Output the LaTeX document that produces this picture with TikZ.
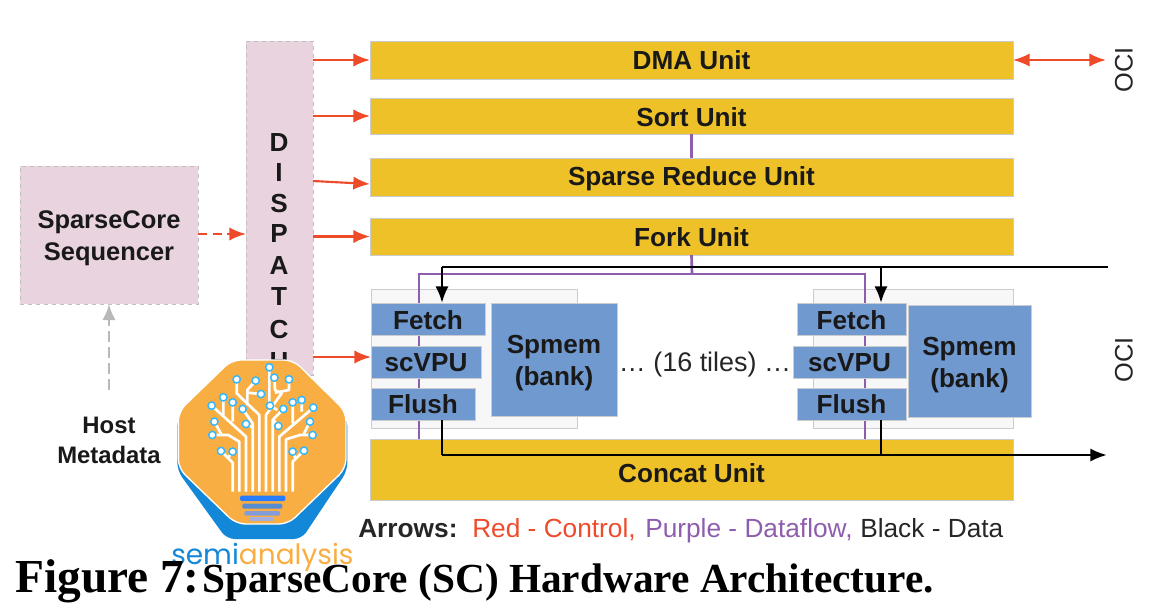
\documentclass[tikz,border=0pt]{standalone}
\usepackage{fontspec}
\setmainfont{Liberation Sans}
\newfontfamily\capfont{Liberation Serif}
\newfontfamily\logofont{Poppins}
\usetikzlibrary{arrows.meta}
\definecolor{unity}{HTML}{EFC128}
\definecolor{pinkb}{HTML}{E8D3DF}
\definecolor{blueb}{HTML}{7099D0}
\definecolor{redc}{HTML}{EE4B2B}
\definecolor{purp}{HTML}{8E5DAE}
\definecolor{edgeg}{HTML}{C9CDD2}
\definecolor{logoo}{HTML}{F8AE42}
\definecolor{logob}{HTML}{1488D8}
\tikzset{
  x=0.75pt,y=-0.75pt,
  lab/.style={font=\fontsize{19.6}{24}\selectfont\bfseries,align=center,text=black!90},
  box/.style={rectangle,inner sep=0pt,outer sep=0pt,line width=0.6pt,anchor=center},
  unitbox/.style={box,fill=unity,draw=edgeg},
  tilebg/.style={box,fill=black!3,draw=edgeg},
  blk/.style={box,fill=blueb,draw=edgeg},
  pinkbox/.style={box,fill=pinkb,draw=black!25,dashed},
  ctl/.style={draw=redc,line width=1.6pt,-{Latex[length=12.5pt,width=10pt]}},
  flow/.style={draw=purp,line width=2pt},
  dat/.style={draw=black,line width=2pt},
  datarrow/.style={dat,-{Latex[length=12.5pt,width=10pt]}},
  plain/.style={font=\fontsize{20.2}{24}\selectfont,text=black!85},
  legend/.style={anchor=base west,inner sep=0pt,font=\fontsize{19.7}{24}\selectfont},
  tree/.style={draw=white,line width=2pt,line join=round},
  leaf/.style={circle,fill=white,draw=blue!35!cyan!80!white,line width=1.1pt,inner sep=0pt,minimum size=5.5pt},
}
\newcommand{\ub}[6]{\node[#6,minimum width=#3 *0.75pt-#1 *0.75pt,minimum height=#4 *0.75pt-#2 *0.75pt] (#5) at ({(#1+#3)/2},{(#2+#4)/2})}
\newcommand{\tx}[3]{\node[lab] (#1text) at ([yshift=#2]#1.center) {#3};}
\begin{document}
\begin{tikzpicture}
\useasboundingbox (0,0) rectangle (1168,614);
% tiles background
\ub{371}{289}{577}{428}{tileL}{tilebg} {};
\ub{813}{289}{1013}{428}{tileR}{tilebg} {};
% units
\ub{370}{41}{1013}{79}{dma}{unitbox} {}; \tx{dma}{0pt}{DMA Unit}
\ub{370}{98}{1013}{134}{sort}{unitbox} {}; \tx{sort}{-0.7pt}{Sort Unit}
\ub{370}{158}{1013}{196}{sparse}{unitbox} {}; \tx{sparse}{-1.5pt}{Sparse Reduce Unit}
\ub{370}{218}{1013}{255}{fork}{unitbox} {}; \tx{fork}{-0.7pt}{Fork Unit}
\ub{370}{439}{1013}{500}{concat}{unitbox} {}; \tx{concat}{-2.5pt}{Concat Unit}
% dispatch and sequencer
\ub{246}{41}{313}{375}{dispatch}{pinkbox} {};
\foreach \c/\yy in {D/143,I/173,S/204,P/234,A/266,T/297,C/330,H/362}
  \node[lab] (let\c) at (279,\yy) {\c};
\ub{20}{166}{198}{304}{seq}{pinkbox} {};
\node[lab,font=\fontsize{19.1}{24}\selectfont\bfseries] (seqtext) at ([yshift=-2.5pt]seq.center) {SparseCore\\Sequencer};
\node[lab,font=\fontsize{17.9}{22.5}\selectfont\bfseries] (host) at (109,440) {Host\\Metadata};
% purple dataflow under blocks
\coordinate (forkdrop) at (692,274);
\coordinate (pl) at (419,274);
\coordinate (pr) at (865,274);
\draw[flow] (sort.south) -- (sparse.north);
\draw[flow] (fork.south) -- (forkdrop);
\draw[flow] (concat.north -| pl) -- (pl) -- (pr) -- (concat.north -| pr);
% blocks
\ub{371}{303}{485}{335}{fetchL}{blk} {}; \tx{fetchL}{-0.7pt}{Fetch}
\ub{371}{346}{481}{378}{vpuL}{blk} {}; \tx{vpuL}{-0.7pt}{scVPU}
\ub{371}{388}{475}{420}{flushL}{blk} {}; \tx{flushL}{0pt}{Flush}
\ub{491}{303}{617}{416}{memL}{blk} {}; \tx{memL}{-3pt}{Spmem\\(bank)}
\ub{797}{303}{906}{335}{fetchR}{blk} {}; \tx{fetchR}{-0.7pt}{Fetch}
\ub{793}{346}{906}{378}{vpuR}{blk} {}; \tx{vpuR}{-0.7pt}{scVPU}
\ub{797}{388}{906}{420}{flushR}{blk} {}; \tx{flushR}{0pt}{Flush}
\ub{908}{305}{1031}{417}{memR}{blk} {}; \tx{memR}{-3pt}{Spmem\\(bank)}
\node[plain] (tiles) at (705,365) {… (16 tiles) …};
% black data
\coordinate (topend) at (1108,267);
\coordinate (tl) at (442,267);
\coordinate (tr) at (881,267);
\coordinate (botend) at (1107,455);
\coordinate (bl) at (442,455);
\coordinate (br) at (881,455);
\draw[dat] (topend) -- (tl);
\draw[datarrow] (tl) -- (fetchL.north -| tl);
\draw[datarrow] (tr) -- (fetchR.north -| tr);
\draw[dat] (flushL.south -| bl) -- (bl);
\draw[dat] (flushR.south -| br) -- (br);
\draw[datarrow] (bl) -- (botend);
% red control
\coordinate (d1) at (dispatch.east |- dma.west);
\coordinate (d2) at (dispatch.east |- sort.west);
\coordinate (d3) at (313,181);
\coordinate (d4) at (dispatch.east |- fork.west);
\coordinate (d5) at (313,357);
\coordinate (d6) at (371,357);
\coordinate (d3e) at (370,184);
\draw[ctl] (d1) -- (dma.west);
\draw[ctl] (d2) -- (sort.west);
\draw[ctl] (d3) -- (d3e);
\draw[ctl] (d4) -- (fork.west);
\draw[ctl] (d5) -- (d6);
\coordinate (dmaout) at (1106,60);
\draw[draw=redc,line width=1.6pt,{Latex[length=12.5pt,width=10pt]}-{Latex[length=12.5pt,width=10pt]}] (dma.east) -- (dmaout);
\coordinate (seqy) at (0,234);
\draw[ctl,dash pattern=on 7pt off 4pt] (seq.east |- seqy) -- (dispatch.west |- seqy);
\coordinate (hostup) at (109,390);
\draw[draw=black!28,line width=2pt,dash pattern=on 8pt off 4pt,-{Latex[length=12pt,width=10pt]}] (hostup) -- (hostup |- seq.south);
\node[plain,rotate=90,font=\fontsize{19}{23}\selectfont] (oci1) at (1124,70) {OCI};
\node[plain,rotate=90,font=\fontsize{19}{23}\selectfont] (oci2) at (1124,360) {OCI};
% legend
\node[legend,font=\fontsize{19.7}{24}\selectfont\bfseries,text=black!85] (legA) at (358,537) {Arrows:};
\node[legend,text=redc] (legR) at (472,537) {Red - Control,};
\node[legend,text=purp] (legP) at (645,537) {Purple - Dataflow,};
\node[legend,text=black!85] (legB) at (860,537) {Black - Data};
% logo
\begin{scope}[shift={(160,340)},x=0.25pt,y=-0.25pt]
 \fill[logob,rounded corners=6pt] (215,95) -- (400,95) -- (562,235) -- (562,392) -- (425,597) -- (200,597) -- (52,392) -- (52,235) -- cycle;
 \fill[logoo,draw=white,line width=1pt,rounded corners=7pt] (215,60) -- (400,60) -- (558,215) -- (558,385) -- (385,552) -- (228,552) -- (55,385) -- (55,215) -- cycle;
 \draw[tree]
  (218,455) -- (218,368) -- (183,333)
  (205,352) -- (218,335)
  (238,455) -- (238,305) -- (205,285) -- (157,285)
  (185,285) -- (163,245)
  (258,455) -- (258,290) -- (155,197)
  (190,172) -- (190,225)
  (218,187) -- (218,245)
  (278,455) -- (278,250) -- (248,207)
  (278,262) -- (258,252)
  (298,455) -- (298,225) -- (230,160) -- (230,118)
  (262,195) -- (262,150) -- (287,122)
  (262,158) -- (303,162)
  (318,455) -- (318,225) -- (365,160) -- (345,150) -- (343,113)
  (387,118) -- (387,150) -- (345,158)
  (328,82) -- (328,190)
  (338,455) -- (338,240) -- (370,207)
  (330,197) -- (352,210)
  (358,455) -- (358,290) -- (460,203)
  (340,240) -- (355,258)
  (398,187) -- (398,250)
  (425,180) -- (425,215)
  (378,455) -- (378,298) -- (420,285) -- (458,285)
  (450,245) -- (430,285)
  (398,455) -- (398,365) -- (432,332)
  (398,335) -- (405,352);
 \foreach \lx/\ly in {183/333,218/335,157/285,163/245,155/197,190/172,218/187,248/207,258/252,230/118,287/122,303/162,343/113,387/118,328/82,330/197,370/207,355/258,460/203,398/187,425/180,450/245,458/285,432/332,398/335}
  {\node[leaf] at (\lx,\ly) {};}
 \fill[blue!60!cyan!85!white,rounded corners=1pt] (240,467) rectangle (376,483);
 \fill[cyan!50!blue!70!white,rounded corners=1pt] (247,491) rectangle (367,506);
 \fill[cyan!40!blue!50!white,rounded corners=1pt] (253,513) rectangle (360,527);
 \fill[cyan!30!blue!35!white] (270,531) rectangle (343,543);
\end{scope}
\node[anchor=base west,inner sep=0pt,font=\logofont\fontsize{21}{24}\selectfont] (logotext) at (171,564) {\textcolor{logob}{semi}\textcolor{logoo}{analysis}};
% caption
\node[anchor=base west,inner sep=0pt,font=\capfont\fontsize{35.5}{42}\selectfont\bfseries] (capA) at (15,592) {Figure 7:};
\node[anchor=base west,inner sep=0pt,font=\capfont\fontsize{31}{38}\selectfont\bfseries] (capB) at (202,592) {SparseCore (SC) Hardware Architecture.};
\end{tikzpicture}
\end{document}
